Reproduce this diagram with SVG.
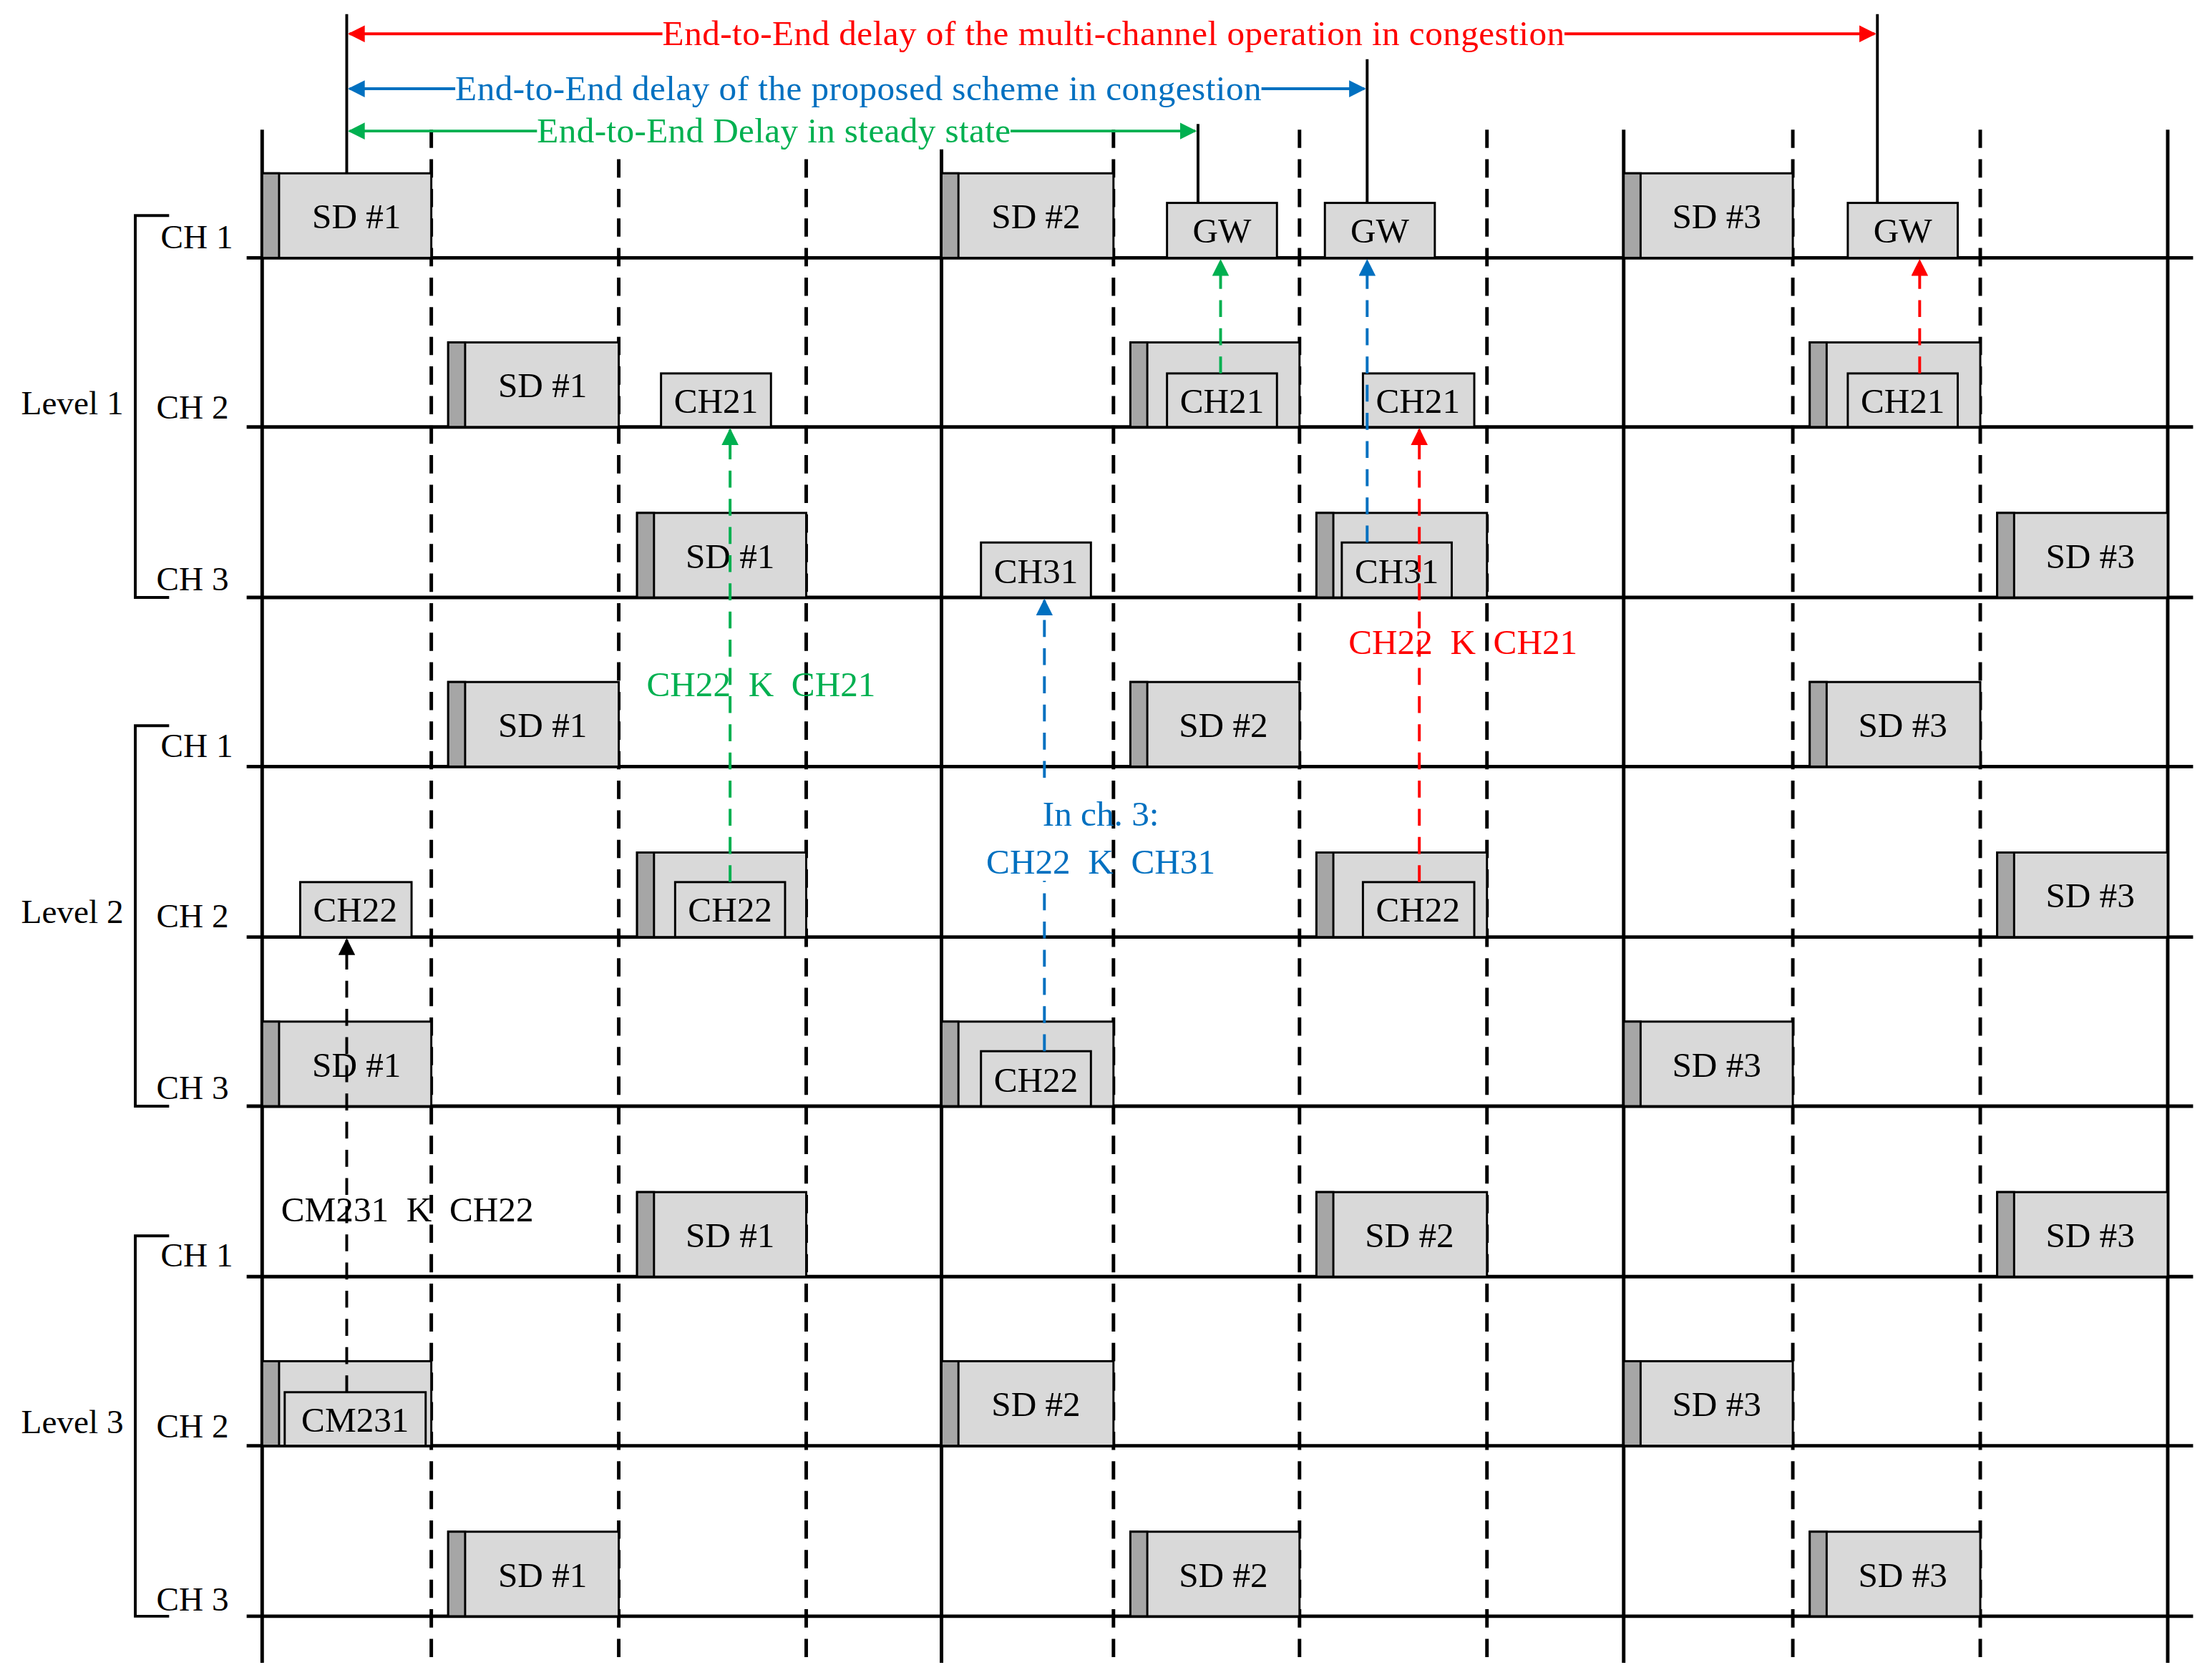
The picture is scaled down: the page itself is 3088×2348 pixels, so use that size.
<svg xmlns="http://www.w3.org/2000/svg" width="3088" height="2348" viewBox="0 0 3088 2348">
<defs>
<style>
text{font-family:"Liberation Serif","Times New Roman",serif;}
.t{font-size:25px;text-anchor:middle;fill:#000}
.lb{font-size:24px;fill:#000}
.grid line{stroke:#000;stroke-width:2.5}
.dash line{stroke:#000;stroke-width:2.5;stroke-dasharray:13 8}
.box{fill:#d9d9d9;stroke:#000;stroke-width:1.5}
.strip{fill:#a6a6a6;stroke:#000;stroke-width:1.5}
.br{fill:none;stroke:#000;stroke-width:2}
</style>
<marker id="aR" viewBox="0 0 10 10" refX="9" refY="5" markerWidth="6" markerHeight="6" orient="auto-start-reverse"><path d="M0,0L10,5L0,10z" fill="#ff0000"/></marker>
<marker id="aB" viewBox="0 0 10 10" refX="9" refY="5" markerWidth="6" markerHeight="6" orient="auto-start-reverse"><path d="M0,0L10,5L0,10z" fill="#0070c0"/></marker>
<marker id="aG" viewBox="0 0 10 10" refX="9" refY="5" markerWidth="6" markerHeight="6" orient="auto-start-reverse"><path d="M0,0L10,5L0,10z" fill="#00b050"/></marker>
<marker id="aK" viewBox="0 0 10 10" refX="9" refY="5" markerWidth="6" markerHeight="6" orient="auto-start-reverse"><path d="M0,0L10,5L0,10z" fill="#000"/></marker>
</defs>
<rect width="3088" height="2348" fill="#fff"/>
<g transform="scale(1.9694)">
<g id="grid" class="grid">
<line x1="186" y1="92" x2="186" y2="1180"/><line x1="668" y1="92" x2="668" y2="1180"/><line x1="1152" y1="92" x2="1152" y2="1180"/><line x1="1538" y1="92" x2="1538" y2="1180"/>
<line x1="175" y1="183" x2="1556" y2="183"/><line x1="175" y1="303" x2="1556" y2="303"/><line x1="175" y1="424" x2="1556" y2="424"/>
<line x1="175" y1="544" x2="1556" y2="544"/><line x1="175" y1="665" x2="1556" y2="665"/><line x1="175" y1="785" x2="1556" y2="785"/>
<line x1="175" y1="906" x2="1556" y2="906"/><line x1="175" y1="1026" x2="1556" y2="1026"/><line x1="175" y1="1147" x2="1556" y2="1147"/>
</g>
<g id="dashed" class="dash">
<line x1="306" y1="92" x2="306" y2="1180"/><line x1="439" y1="92" x2="439" y2="1180"/><line x1="572" y1="92" x2="572" y2="1180"/>
<line x1="790" y1="92" x2="790" y2="1180"/><line x1="922" y1="92" x2="922" y2="1180"/><line x1="1055" y1="92" x2="1055" y2="1180"/>
<line x1="1272" y1="92" x2="1272" y2="1180"/><line x1="1405" y1="92" x2="1405" y2="1180"/>
</g>
<g id="labels">
<path class="br" d="M120,153H96V424H120"/><path class="br" d="M120,515H96V785H120"/><path class="br" d="M120,877H96V1147H120"/>
<text class="lb" x="15" y="294">Level 1</text><text class="lb" x="15" y="655">Level 2</text><text class="lb" x="15" y="1017">Level 3</text>
<text class="lb" x="114" y="176">CH 1</text><text class="lb" x="111" y="297">CH 2</text><text class="lb" x="111" y="419">CH 3</text>
<text class="lb" x="114" y="537">CH 1</text><text class="lb" x="111" y="658">CH 2</text><text class="lb" x="111" y="780">CH 3</text>
<text class="lb" x="114" y="899">CH 1</text><text class="lb" x="111" y="1020">CH 2</text><text class="lb" x="111" y="1143">CH 3</text>
</g>
<g id="sd-l1c1a"><rect class="box" x="186" y="123" width="120" height="60"/><rect class="strip" x="186" y="123" width="12" height="60"/><text class="t" x="253" y="162">SD #1</text></g>
<g id="sd-l1c1b"><rect class="box" x="668" y="123" width="122" height="60"/><rect class="strip" x="668" y="123" width="12" height="60"/><text class="t" x="735" y="162">SD #2</text></g>
<g id="sd-l1c1c"><rect class="box" x="1152" y="123" width="120" height="60"/><rect class="strip" x="1152" y="123" width="12" height="60"/><text class="t" x="1218" y="162">SD #3</text></g>
<g id="gw1"><rect class="box" x="828" y="144" width="78" height="39"/><text class="t" x="867" y="172">GW</text></g>
<g id="gw2"><rect class="box" x="940" y="144" width="78" height="39"/><text class="t" x="979" y="172">GW</text></g>
<g id="gw3"><rect class="box" x="1311" y="144" width="78" height="39"/><text class="t" x="1350" y="172">GW</text></g>

<g id="sd-l1c2a"><rect class="box" x="318" y="243" width="121" height="60"/><rect class="strip" x="318" y="243" width="12" height="60"/><text class="t" x="385" y="282">SD #1</text></g>
<g id="ch21a"><rect class="box" x="469" y="265" width="78" height="38"/><text class="t" x="508" y="293">CH21</text></g>
<g id="sd-l1c2b"><rect class="box" x="802" y="243" width="120" height="60"/><rect class="strip" x="802" y="243" width="12" height="60"/><rect class="box" x="828" y="265" width="78" height="38"/><text class="t" x="867" y="293">CH21</text></g>
<g id="ch21c"><rect class="box" x="967" y="265" width="79" height="38"/><text class="t" x="1006" y="293">CH21</text></g>
<g id="sd-l1c2c"><rect class="box" x="1284" y="243" width="121" height="60"/><rect class="strip" x="1284" y="243" width="12" height="60"/><rect class="box" x="1311" y="265" width="78" height="38"/><text class="t" x="1350" y="293">CH21</text></g>

<g id="sd-l1c3a"><rect class="box" x="452" y="364" width="120" height="60"/><rect class="strip" x="452" y="364" width="12" height="60"/><text class="t" x="518" y="403">SD #1</text></g>
<g id="ch31a"><rect class="box" x="696" y="385" width="78" height="39"/><text class="t" x="735" y="414">CH31</text></g>
<g id="sd-l1c3b"><rect class="box" x="934" y="364" width="121" height="60"/><rect class="strip" x="934" y="364" width="12" height="60"/><rect class="box" x="952" y="385" width="78" height="39"/><text class="t" x="991" y="414">CH31</text></g>
<g id="sd-l1c3c"><rect class="box" x="1417" y="364" width="121" height="60"/><rect class="strip" x="1417" y="364" width="12" height="60"/><text class="t" x="1483" y="403">SD #3</text></g>

<g id="sd-l2c1a"><rect class="box" x="318" y="484" width="121" height="60"/><rect class="strip" x="318" y="484" width="12" height="60"/><text class="t" x="385" y="523">SD #1</text></g>
<g id="sd-l2c1b"><rect class="box" x="802" y="484" width="120" height="60"/><rect class="strip" x="802" y="484" width="12" height="60"/><text class="t" x="868" y="523">SD #2</text></g>
<g id="sd-l2c1c"><rect class="box" x="1284" y="484" width="121" height="60"/><rect class="strip" x="1284" y="484" width="12" height="60"/><text class="t" x="1350" y="523">SD #3</text></g>

<g id="ch22a"><rect class="box" x="213" y="626" width="79" height="39"/><text class="t" x="252" y="654">CH22</text></g>
<g id="sd-l2c2a"><rect class="box" x="452" y="605" width="120" height="60"/><rect class="strip" x="452" y="605" width="12" height="60"/><rect class="box" x="479" y="626" width="78" height="39"/><text class="t" x="518" y="654">CH22</text></g>
<g id="sd-l2c2b"><rect class="box" x="934" y="605" width="121" height="60"/><rect class="strip" x="934" y="605" width="12" height="60"/><rect class="box" x="967" y="626" width="79" height="39"/><text class="t" x="1006" y="654">CH22</text></g>
<g id="sd-l2c2c"><rect class="box" x="1417" y="605" width="121" height="60"/><rect class="strip" x="1417" y="605" width="12" height="60"/><text class="t" x="1483" y="644">SD #3</text></g>

<g id="sd-l2c3a"><rect class="box" x="186" y="725" width="120" height="60"/><rect class="strip" x="186" y="725" width="12" height="60"/><text class="t" x="253" y="764">SD #1</text></g>
<g id="sd-l2c3b"><rect class="box" x="668" y="725" width="122" height="60"/><rect class="strip" x="668" y="725" width="12" height="60"/><rect class="box" x="696" y="746" width="78" height="39"/><text class="t" x="735" y="775">CH22</text></g>
<g id="sd-l2c3c"><rect class="box" x="1152" y="725" width="120" height="60"/><rect class="strip" x="1152" y="725" width="12" height="60"/><text class="t" x="1218" y="764">SD #3</text></g>

<g id="sd-l3c1a"><rect class="box" x="452" y="846" width="120" height="60"/><rect class="strip" x="452" y="846" width="12" height="60"/><text class="t" x="518" y="885">SD #1</text></g>
<g id="sd-l3c1b"><rect class="box" x="934" y="846" width="121" height="60"/><rect class="strip" x="934" y="846" width="12" height="60"/><text class="t" x="1000" y="885">SD #2</text></g>
<g id="sd-l3c1c"><rect class="box" x="1417" y="846" width="121" height="60"/><rect class="strip" x="1417" y="846" width="12" height="60"/><text class="t" x="1483" y="885">SD #3</text></g>

<g id="sd-l3c2a"><rect class="box" x="186" y="966" width="120" height="60"/><rect class="strip" x="186" y="966" width="12" height="60"/><rect class="box" x="202" y="988" width="100" height="38"/><text class="t" x="252" y="1016">CM231</text></g>
<g id="sd-l3c2b"><rect class="box" x="668" y="966" width="122" height="60"/><rect class="strip" x="668" y="966" width="12" height="60"/><text class="t" x="735" y="1005">SD #2</text></g>
<g id="sd-l3c2c"><rect class="box" x="1152" y="966" width="120" height="60"/><rect class="strip" x="1152" y="966" width="12" height="60"/><text class="t" x="1218" y="1005">SD #3</text></g>

<g id="sd-l3c3a"><rect class="box" x="318" y="1087" width="121" height="60"/><rect class="strip" x="318" y="1087" width="12" height="60"/><text class="t" x="385" y="1126">SD #1</text></g>
<g id="sd-l3c3b"><rect class="box" x="802" y="1087" width="120" height="60"/><rect class="strip" x="802" y="1087" width="12" height="60"/><text class="t" x="868" y="1126">SD #2</text></g>
<g id="sd-l3c3c"><rect class="box" x="1284" y="1087" width="121" height="60"/><rect class="strip" x="1284" y="1087" width="12" height="60"/><text class="t" x="1350" y="1126">SD #3</text></g>

<g id="connectors" fill="none" stroke-width="2">
<line x1="246" y1="10" x2="246" y2="123" stroke="#000"/>
<line x1="1332" y1="10" x2="1332" y2="144" stroke="#000"/>
<line x1="970" y1="42" x2="970" y2="144" stroke="#000"/>
<line x1="850" y1="88" x2="850" y2="144" stroke="#000"/>
<line x1="248" y1="24" x2="1330" y2="24" stroke="#ff0000" marker-start="url(#aR)" marker-end="url(#aR)"/>
<line x1="248" y1="63" x2="968" y2="63" stroke="#0070c0" marker-start="url(#aB)" marker-end="url(#aB)"/>
<line x1="248" y1="93" x2="848" y2="93" stroke="#00b050" marker-start="url(#aG)" marker-end="url(#aG)"/>
<g stroke-dasharray="12 8">
<line x1="866" y1="265" x2="866" y2="185" stroke="#00b050" marker-end="url(#aG)"/>
<line x1="518" y1="626" x2="518" y2="305" stroke="#00b050" marker-end="url(#aG)"/>
<line x1="970" y1="385" x2="970" y2="185" stroke="#0070c0" marker-end="url(#aB)"/>
<line x1="741" y1="552" x2="741" y2="426" stroke="#0070c0" marker-end="url(#aB)"/>
<line x1="741" y1="746" x2="741" y2="625" stroke="#0070c0"/>
<line x1="1007" y1="626" x2="1007" y2="305" stroke="#ff0000" marker-end="url(#aR)"/>
<line x1="1362" y1="265" x2="1362" y2="185" stroke="#ff0000" marker-end="url(#aR)"/>
<line x1="246" y1="988" x2="246" y2="667" stroke="#000" marker-end="url(#aK)"/>
</g>
</g>
<g id="conn-labels" font-size="25">
<rect x="470" y="10" width="640" height="26" fill="#fff"/>
<text x="790" y="32" fill="#ff0000" text-anchor="middle" textLength="640">End-to-End delay of the multi-channel operation in congestion</text>
<rect x="323" y="50" width="572" height="26" fill="#fff"/>
<text x="609" y="71" fill="#0070c0" text-anchor="middle" textLength="572">End-to-End delay of the proposed scheme in congestion</text>
<rect x="381" y="80" width="336" height="26" fill="#fff"/>
<text x="549" y="101" fill="#00b050" text-anchor="middle" textLength="336">End-to-End Delay in steady state</text>
<text x="540" y="494" fill="#00b050" text-anchor="middle" xml:space="preserve">CH22  K  CH21</text>
<text x="1038" y="464" fill="#ff0000" text-anchor="middle" xml:space="preserve">CH22  K  CH21</text>
<text x="781" y="586" fill="#0070c0" text-anchor="middle">In ch. 3:</text>
<text x="781" y="620" fill="#0070c0" text-anchor="middle" xml:space="preserve">CH22  K  CH31</text>
<text x="289" y="867" fill="#000" text-anchor="middle" xml:space="preserve">CM231  K  CH22</text>
</g>
</g>
</svg>
